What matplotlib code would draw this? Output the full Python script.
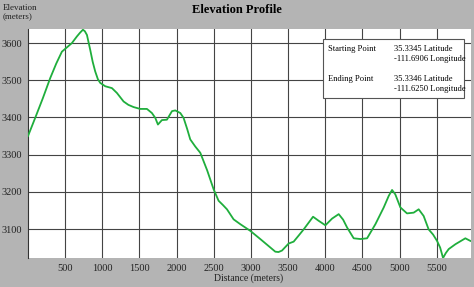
import matplotlib
matplotlib.use("Agg")
import matplotlib.pyplot as plt

# distance (m) and elevation (m)
distance = [0, 97, 200, 299, 380, 456, 520, 590, 658, 700, 739, 765, 793, 837,
            870, 904, 940, 972, 1039, 1129, 1196, 1286, 1350, 1420, 1510, 1600,
            1667, 1712, 1748, 1802, 1869, 1937, 1981, 2049, 2093, 2140, 2183,
            2250, 2318, 2410, 2497, 2564, 2620, 2677, 2766, 2856, 2991, 3125,
            3250, 3327, 3370, 3417, 3507, 3574, 3640, 3709, 3835, 3911, 4001,
            4091, 4180, 4240, 4293, 4382, 4472, 4562, 4674, 4786, 4853, 4898,
            4942, 5010, 5099, 5189, 5256, 5323, 5390, 5450, 5503, 5545, 5584,
            5620, 5660, 5750, 5884, 5951]
elevation = [3350, 3399, 3452, 3506, 3545, 3577, 3588, 3600, 3618, 3628, 3636,
             3632, 3622, 3582, 3550, 3524, 3503, 3493, 3484, 3479, 3466, 3443,
             3434, 3428, 3423, 3423, 3412, 3399, 3381, 3393, 3394, 3417, 3419,
             3412, 3399, 3370, 3341, 3322, 3305, 3258, 3207, 3176, 3165, 3153,
             3126, 3113, 3095, 3073, 3052, 3039, 3038, 3042, 3061, 3066, 3082,
             3099, 3133, 3122, 3110, 3128, 3140, 3125, 3104, 3075, 3073, 3075,
             3113, 3158, 3189, 3205, 3193, 3158, 3142, 3144, 3153, 3135, 3099,
             3085, 3068, 3050, 3022, 3035, 3046, 3059, 3075, 3068]

x_ticks = [500, 1000, 1500, 2000, 2500, 3000, 3500, 4000, 4500, 5000, 5500]
y_ticks = [3100, 3200, 3300, 3400, 3500, 3600]

start_lat, start_lon = "35.3345", "-111.6906"
end_lat, end_lon = "35.3346", "-111.6250"

plt.rcParams['font.family'] = ['Liberation Serif', 'DejaVu Serif']

fig = plt.figure(figsize=(4.74, 2.87), dpi=100, facecolor='#b4b4b4')
ax = fig.add_axes([28 / 474, 1 - 258 / 287, 443 / 474, 229 / 287])
ax.set_facecolor('white')

ax.plot(distance, elevation, color='#1fae3c', linewidth=1.3, zorder=3)

ax.set_xlim(0, 5960)
ax.set_ylim(3022, 3638)
ax.set_xticks(x_ticks)
ax.set_yticks(y_ticks)
ax.grid(True, color='#444444', linewidth=0.8)
ax.tick_params(length=0, labelsize=7.5, colors='#222222', pad=4)
for side in ['top', 'right', 'bottom']:
    ax.spines[side].set_visible(False)
ax.spines['left'].set_color('#333333')
ax.spines['left'].set_linewidth(0.8)

fig.text(0.5, 0.965, "Elevation Profile", ha='center', va='center',
         fontsize=9, fontweight='bold')
fig.text(0.006, 0.985, "Elevation\n(meters)", ha='left', va='top',
         fontsize=6.5, color='#222222', linespacing=1.2)
fig.text(0.524, 0.03, "Distance (meters)", ha='center', va='center',
         fontsize=7, color='#222222')

# info box with the end points
box = plt.Rectangle((323 / 474, 1 - 98 / 287), 141 / 474, 59 / 287,
                    transform=fig.transFigure, facecolor='white',
                    edgecolor='#555555', linewidth=0.8, zorder=5)
fig.add_artist(box)
fs = 6.1
fig.text(328 / 474, 1 - 49 / 287, "Starting Point", fontsize=fs, va='center', zorder=6)
fig.text(394 / 474, 1 - 49 / 287, f"{start_lat} Latitude", fontsize=fs, va='center', zorder=6)
fig.text(394 / 474, 1 - 59 / 287, f"{start_lon} Longitude", fontsize=fs, va='center', zorder=6)
fig.text(328 / 474, 1 - 79 / 287, "Ending Point", fontsize=fs, va='center', zorder=6)
fig.text(394 / 474, 1 - 79 / 287, f"{end_lat} Latitude", fontsize=fs, va='center', zorder=6)
fig.text(394 / 474, 1 - 89 / 287, f"{end_lon} Longitude", fontsize=fs, va='center', zorder=6)

fig.savefig("out.png", dpi=100, facecolor=fig.get_facecolor())
